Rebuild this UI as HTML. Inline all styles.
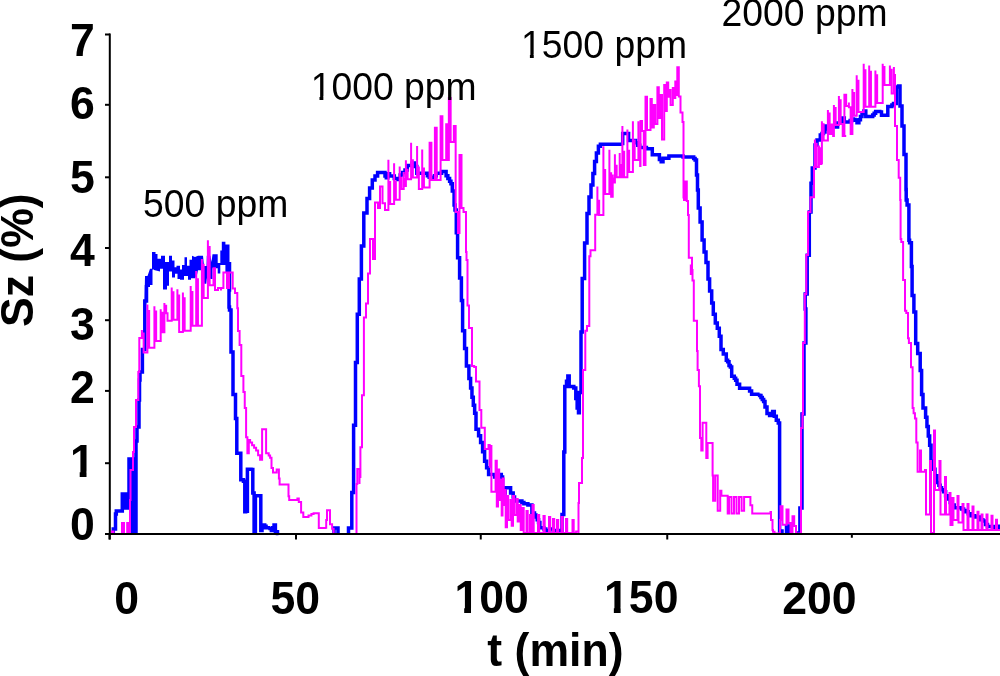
<!DOCTYPE html>
<html><head><meta charset="utf-8"><title>Sz vs t</title>
<style>html,body{margin:0;padding:0;background:#fff;width:1000px;height:676px;overflow:hidden}svg{display:block}</style>
</head><body>
<svg width="1000" height="676" viewBox="0 0 1000 676">
<rect width="1000" height="676" fill="#fff"/>
<polyline fill="none" stroke="#0000ff" stroke-width="3.5" stroke-linejoin="miter" stroke-miterlimit="2" points="113.3,533.5 113.3,529 114.2,529 115.5,529 115.5,514 116.3,514 116.3,511 117.8,511 122.3,511 122.3,494 122.8,494 125.7,494 125.7,508 126.2,508 129,508 129,459 129.8,459 132.5,459 132.5,532 134,532 136,532 136,441 137,441 137,427 139,427 139,400 139.5,400 139.5,380 140,380 140,372 140.5,372 142.4,372 142.4,349.5 144.8,349.5 144.8,301 146.5,301 146.5,285"/>
<polyline fill="none" stroke="#0000ff" stroke-width="3.5" stroke-linejoin="miter" stroke-miterlimit="2" points="229.5,262 229.5,272.4 229.5,290 229,290 229,307 229.5,307 229.5,310 231,310 231,352 233,352 233,392 233,394.6 235.5,394.6 235.5,418.6 236.8,418.6 236.8,453.2 238.1,453.2 240.8,453.2 240.8,455.8 240.8,479.8 242.1,479.8 243.45,479.8 243.45,481.15 244.8,481.15 244.8,482.5 244.8,511.8 246.1,511.8 247.4,511.8 247.4,513 247.4,469.2 248.8,469.2 252.8,469.2 252.8,467.8 252.8,493 254.1,493 254.1,531.7 255.4,531.7 255.4,495.8 257.3,495.8 260.8,495.8 260.8,498.4 260.8,530.4 262,530.4 262,527.7 263.35,527.7 263.35,525 264.7,525 264.7,526.35 266.05,526.35 266.05,527.7 267.4,527.7 270,527.7 270,526.4 270,528.4 271.35,528.4 271.35,530.4 272.7,530.4 272.7,527.7 274.05,527.7 274.05,525 275.4,525 275.4,531.7 277.5,531.7 277.5,533.5 278.5,533.5"/>
<polyline fill="none" stroke="#0000ff" stroke-width="3.5" stroke-linejoin="miter" stroke-miterlimit="2" points="334,534.5 334,528 335.5,528 338,528 338,534.5"/>
<polyline fill="none" stroke="#0000ff" stroke-width="3.5" stroke-linejoin="miter" stroke-miterlimit="2" points="348.5,534.5 348.5,528 349.5,528 351.8,528 351.8,492.6 353.6,492.6 353.6,425.3 355.5,425.3 355.5,362.6 357.3,362.6 357.3,314.2 359.3,314.2 359.3,279 361.4,279 361.4,246 363.8,246 363.8,213 367,213 367,198.6 369.6,198.6 369.6,188 372.3,188 372.3,180 375,180 375,176 377.6,176 377.6,172.6 385,172.6 385,176 386.3,176 386.3,177.8 387.8,177.8 387.8,173.7 389.6,173.7 389.6,176 391.4,176 394.3,176 394.3,178.4 397.9,178.4 397.9,179.6 400.2,179.6 400.2,179 400.2,174.9 402.6,174.9 402.6,172.5 405,172.5 405,170.1 407.3,170.1 407.3,165.4 409.7,165.4 412.1,165.4 412.1,166.6 412.1,163 414.4,163 414.4,166.6 416.8,166.6 416.8,173.2 418.6,173.2 423,173.2 427.4,173.2 427.4,175.8 429.2,175.8 429.2,177.15 431,177.15 431,178.5 434.5,178.5 434.5,175.85 436.3,175.85 436.3,173.2 438.1,173.2 441.6,173.2 441.6,171.4 446.1,171.4 446.1,173.2 446.1,175.85 447.85,175.85 447.85,178.5 449.6,178.5 449.6,181.15 450.95,181.15 450.95,183.8 452.3,183.8 452.3,190.9 454.1,190.9 454.1,205.1 455,205.1 455,210 456.3,210 456.3,232.7 457.6,232.7 457.6,257.8 459.6,257.8 459.6,278 461.4,278 461.4,300.6 462.6,300.6 462.6,330.8 464.6,330.8 464.6,348.4 466.4,348.4 466.4,366 468.9,366 468.9,378.6 470.6,378.6 470.6,387.95 471.95,387.95 471.95,397.3 473.3,397.3 473.3,405.25 474.65,405.25 474.65,413.2 476,413.2 476,429.2 478.6,429.2 478.6,435.85 480.6,435.85 480.6,442.5 482.6,442.5 482.6,451.85 484.6,451.85 484.6,461.2 486.6,461.2 486.6,467.85 488.6,467.85 488.6,474.5 490.6,474.5 494.6,474.5 494.6,477.1 497.3,477.1 497.3,474.5 501.3,474.5 501.3,477.1 502.6,477.1 502.6,498.4 503.9,498.4 503.9,493.1 505.25,493.1 505.25,487.8 506.6,487.8 510.6,487.8 510.6,493.1 513.2,493.1 513.2,497.1 514.55,497.1 514.55,501.1 515.9,501.1 519.9,501.1 521.9,501.1 521.9,502.45 523.9,502.45 523.9,503.8 527.9,503.8 527.9,505.1 531.9,505.1 531.9,506.4 531.9,513.1 534.5,513.1 534.5,515.1 535.85,515.1 535.85,517.1 537.2,517.1 537.2,519.75 538.55,519.75 538.55,522.4 539.9,522.4 539.9,527.7 542.5,527.7 543.85,527.7 543.85,529.05 545.2,529.05 545.2,530.4 549.2,530.4 549.2,529 553.2,529 553.2,530.4 558.5,530.4 562,530.4 562,529 562,514.4 563.8,514.4 563.8,451.9 564.8,451.9 564.8,386.6 566.5,386.6 566.5,381.3 567.85,381.3 567.85,376 569.2,376 569.2,386.6 571.8,386.6 573.8,386.6 573.8,387.95 575.8,387.95 575.8,389.3 575.8,398.6 577.15,398.6 577.15,407.9 578.5,407.9 578.5,412.8 579.3,412.8 579.3,392.6 581,392.6 581,334.3 581,331.9 582.2,331.9 582.2,278.6 584.6,278.6 584.6,276.3 584.6,243 587,243 587,240.8 587,213.6 589,213.6 589,197 591,197 591,185 592.9,185 592.9,173.6 594.6,173.6 594.6,161.6 596.4,161.6 596.4,153 598.4,153 598.4,146.3 600.4,146.3 600.4,144.3 619.2,144.3 622.7,144.3 622.7,145.2 622.7,133.4 625.1,133.4 628.6,133.4 628.6,135.7 628.6,140.5 631,140.5 635.7,140.5 635.7,142.87 637.7,142.87 637.7,145.23 639.7,145.23 639.7,147.6 641.7,147.6 646.4,147.6 646.4,148.8 652.3,148.8 652.3,150 652.3,154.7 654.7,154.7 659.4,154.7 659.4,157 659.4,159.4 661.2,159.4 661.2,161.8 663,161.8 663,158.2 665.3,158.2 668.9,158.2 668.9,155.9 683.1,155.9 683.1,157 693.7,157 693.7,158.5 695.1,158.5 695.1,160 696.5,160 696.5,175 697.5,175 697.5,190 698.3,190 698.3,208 700.1,208 700.1,222 702.1,222 702.1,240 704.1,240 704.1,252 706,252 706,262.6 708,262.6 708,279 709.6,279 709.6,291 711.7,291 711.7,303 713.3,303 713.3,314.3 715.3,314.3 715.3,323 717.3,323 717.3,328.3 719.3,328.3 719.3,336.3 721,336.3 721,349.6 723.3,349.6 723.3,354 726.3,354 726.3,356 726.3,360.3 727.65,360.3 727.65,361.65 729,361.65 729,363 729,365.6 730.35,365.6 730.35,366.95 731.7,366.95 731.7,368.3 731.7,373.6 731.7,376.3 734.3,376.3 734.3,378.3 735.65,378.3 735.65,380.3 737,380.3 737,384.3 739.6,384.3 739.6,388.3 741,388.3 749.6,388.3 749.6,391 751.6,391 751.6,394.3 753.6,394.3 757,394.3 759.6,394.3 759.6,393.6 759.6,395.6 760.95,395.6 760.95,397.6 762.3,397.6 762.3,399.6 763.65,399.6 763.65,401.6 765,401.6 765,407 767,407 767,413.6 769.6,413.6 769.6,415.6 771,415.6 771,413.6 772.65,413.6 772.65,411.6 774.3,411.6 774.3,416.3 776.3,416.3 776.3,420.3 778.3,420.3 778.3,423 779.6,423 779.6,531 782,531 782,532.5 782,534.5"/>
<polyline fill="none" stroke="#0000ff" stroke-width="3.5" stroke-linejoin="miter" stroke-miterlimit="2" points="786.5,534.5 786.5,526 787,526 788.5,526 788.5,534.5"/>
<polyline fill="none" stroke="#0000ff" stroke-width="3.5" stroke-linejoin="miter" stroke-miterlimit="2" points="798.5,534.5 798.5,533 799.9,533 799.9,508 802,508 802,414 804,414 804,343 805.9,343 805.9,309 805.2,309 805.2,294 807.2,294 807.2,255.2 809.3,255.2 809.3,212 811,212 811,197 811,183.3 811.3,183.3 812.3,183.3 812.3,168 815,168 815,147 815,145 817,145 817,140 820.3,140 820.3,139.5 820.3,135 822,135 822,133.5 823.5,133.5 823.5,132 825,132 825,126 827,126 827,129 829,129 829,127 831,127 837.6,127 837.6,123 839,123 841,123 841,121.6 841,118 842.3,118 844.3,118 844.3,122 845.6,122 848.3,122 850.15,122 850.15,120.5 852,120.5 852,119 855.1,119 855.1,117.8 855.1,120.3 857,120.3 857,122.8 858.9,122.8 858.9,119.7 860.45,119.7 860.45,116.6 862,116.6 862,113.75 863.9,113.75 863.9,110.9 865.8,110.9 865.8,116.6 868.3,116.6 872.7,116.6 872.7,114.9 874.17,114.9 874.17,113.2 875.63,113.2 875.63,111.5 877.1,111.5 881.5,111.5 881.5,110.3 881.5,115.3 884,115.3 887.8,115.3 887.8,114 887.8,106.5 890.3,106.5 891.9,106.5 891.9,104.95 893.5,104.95 893.5,103.4 896.3,103.4 896.3,103 896.3,87 898.5,87 898.5,86 900,86 900,86.5 900,106 902,106 902,126 904,126 904,154.6 906,154.6 906,189.6 906.2,189.6 906.2,200 907.1,200 907.1,205 908.9,205 908.9,240.2 909.6,240.2 909.6,242.8 911.4,242.8 911.4,266.6 912.1,266.6 912.1,295.6 913.9,295.6 913.9,311.9 915.7,311.9 915.7,343.4 917.7,343.4 917.7,353.4 920.2,353.4 920.2,370.6 921.6,370.6 921.6,394.6 923,394.6 923,407.9 925.6,407.9 925.6,417.25 926.95,417.25 926.95,426.6 928.3,426.6 928.3,435.9 929.65,435.9 929.65,445.2 931,445.2 931,461.2 933.6,461.2 933.6,469.2 935,469.2 935,475.85 936.95,475.85 936.95,482.5 938.9,482.5 938.9,485.15 940.25,485.15 940.25,487.8 941.6,487.8 941.6,489.8 943.6,489.8 943.6,491.8 945.6,491.8 945.6,495.8 948.2,495.8 948.2,499.1 950.2,499.1 950.2,502.4 952.2,502.4 952.2,505.1 954.2,505.1 954.2,507.8 956.2,507.8 961.6,507.8 961.6,509.1 963.6,509.1 963.6,510.45 965.6,510.45 965.6,511.8 968.25,511.8 968.25,513.8 970.9,513.8 970.9,515.8 974.9,515.8 974.9,517.1 980.2,517.1 980.2,519.7 982.85,519.7 982.85,521.05 985.5,521.05 985.5,522.4 985.5,524.4 987.5,524.4 987.5,526.4 989.5,526.4 993.5,526.4 993.5,529 997.5,529 997.5,527.7 999.75,527.7 999.75,526.35 1002,526.35 1002,525"/>
<polygon fill="#0000ff" stroke="none" points="144.5,300 145,276 147.5,276 150,268.7 152,268.7 152,252 155.5,252 155.5,253.9 157.5,253.9 157.5,258.7 161,258.7 161,255.7 165,255.7 165,262 169,262 169,255.7 172,255.7 172,260.5 174.5,260.5 174.5,267.2 176.5,267.2 176.5,265.7 180,265.7 180,269.4 182,269.4 182,265 184.5,265 184.5,257.2 187,257.2 187,265.7 189.5,265.7 189.5,259.8 192,259.8 192,255.7 195,257 198,255.8 203,255.8 204,266 206.5,266 206.8,255.8 210.4,255.8 211.5,262 212.5,254.3 217.7,254.3 217.7,263 220.3,263 220.3,250.6 221.8,250.6 221.8,241.8 225.4,241.8 225.4,244.4 229.5,244.4 229.5,272.4 225.4,272.4 225.4,265 220.3,265 220.3,273.4 217.7,273.4 217.7,268.2 212.5,268.2 212.5,279 210.4,279 210.4,278.6 206.8,278.6 206.3,283.8 204.2,283.8 203,270.3 198,270.3 197,275 195,278.3 191,278.3 191,279.8 188,279.8 188,276 184,276 184,279.8 180,279.8 180,279 177.5,279 177.5,273.8 175,273.8 175,277.5 172,277.5 172,271.6 169,271.6 169,285.7 167,285.7 167,289.4 163,289.4 163,268.7 160,268.7 160,271.6 154,270 154,269.4 152.5,269.4 152.5,285 150,285 150,287 148,287 147,300"/>
<polyline fill="none" stroke="#ff00ff" stroke-width="2.0" stroke-linejoin="miter" stroke-miterlimit="2" points="112,534 112,531.5 113.5,531.5 113.5,534 115,534 122,534 122,523 122.5,523 124,523 124,534 124.5,534 127.2,534 127.2,523 127.5,523 128.8,523 128.8,534 129.2,534 130,534 130,500 130.5,500 130.5,470 133,470 133,452 134,452 134,427 136,427 136,400 138.3,400 138.3,372 139.3,372 139.3,338 140.3,338 141.9,338 141.9,330 141.9,333.38 143.65,333.38 143.65,352.5 145.4,352.5 147.4,352.5 147.4,304.4 147.4,310.89 149.15,310.89 149.15,347.7 150.9,347.7 154.4,347.7 154.4,306.3 154.4,311.5 156.15,311.5 156.15,341 157.9,341 160.7,341 160.7,309.2 160.7,312.66 162.45,312.66 162.45,332.3 164.2,332.3 164.4,332.3 164.4,303 164.4,305.67 166.15,305.67 166.15,313.24 167.53,313.24 167.53,320.8 168.9,320.8 171.7,320.8 171.7,287.5 171.7,292.33 173.45,292.33 173.45,319.7 175.2,319.7 177.4,319.7 177.4,289.2 177.4,295.62 179.15,295.62 179.15,332 180.9,332 182.9,332 182.9,292.5 182.9,298.25 184.65,298.25 184.65,330.8 186.4,330.8 190.7,330.8 190.7,285.9 190.7,291.88 192.45,291.88 192.45,325.8 194.2,325.8 196.2,325.8 196.2,270.9 196.2,279.13 197.95,279.13 197.95,325.8 199.7,325.8 201.9,325.8 201.9,259 201.9,264.85 203.65,264.85 203.65,298 205.4,298 207.9,298 207.9,240.3 207.9,247.05 209.65,247.05 209.65,285.3 211.4,285.3 213.5,285.3 213.5,268.2 215,268.2 215,290 215.5,290 218,290 218,288 221,288 221,290.5 221,288 223.4,288 223.4,272.4 227,272.4 227,288 227.5,288 229,288 229,272.4 229.5,272.4 232.7,272.4 232.7,288.4 233,288.4 235,288.4 235,293 237.3,293 237.3,308.2 238,308.2 238,331 239.6,331 239.6,345 241.3,345 241.3,376 243.4,376 243.4,392 244.75,392 244.75,408 246.1,408 246.1,437.2 247.4,437.2 247.4,453.2 248.8,453.2 248.8,439.9 250.1,439.9 250.1,442.55 252.1,442.55 252.1,445.2 254.1,445.2 254.1,447.85 256.1,447.85 256.1,450.5 258.1,450.5 258.1,455.15 260.1,455.15 260.1,459.8 262.1,459.8 262.1,429.2 263.4,429.2 266.1,429.2 266.1,430.6 266.1,453.2 268.7,453.2 268.7,455.5 270.1,455.5 270.1,457.8 271.5,457.8 271.5,468.1 273,468.1 273,472.5 273.7,472.5 276.7,472.5 276.7,471.8 276.7,469.6 278.9,469.6 278.9,478.5 279.6,478.5 279.6,484.4 281.1,484.4 288.5,484.4 288.5,496.2 289.2,496.2 289.2,499.9 290.7,499.9 297.4,499.9 297.4,498.4 298.8,498.4 298.8,502.1 301.1,502.1 301.1,512.5 303.3,512.5 303.3,516.9 305.5,516.9 308.5,516.9 308.5,515.4 311.4,515.4 311.4,514 313.6,514 313.6,513.2 318.8,513.2 318.8,528 319.6,528 326.2,528 326.2,528.8 326.2,519.9 327,519.9 327,510.3 328.4,510.3 330,510.3 330,524.3 332.1,524.3 332.1,525.8 332.1,528.8 333.6,528.8 333.6,534 334.3,534 356,534"/>
<polyline fill="none" stroke="#ff00ff" stroke-width="2.0" stroke-linejoin="miter" stroke-miterlimit="2" points="334.3,534 356.5,534 356.5,484 357.3,484 357.3,469 359.5,469 359.5,484 359.5,477 360.4,477 360.4,447.3 362,447.3 362,395.2 363.9,395.2 363.9,317.6 366,317.6 366,303.6 368,303.6 368,273.6 370,273.6 370,239 373,239 373,259 375,259 375,208.6 375,202.4 376.5,202.4 378,202.4 378,208 378.5,208 380,208 380,186.4 382.5,186.4 382.5,203.2 383,203.2 385,203.2 385,210 385.5,210 388.4,210 388.4,159.8 388.4,181.9 390.15,181.9 390.15,204 394.1,204 394.1,163.3 394.1,181.5 395.85,181.5 395.85,199.7 399.7,199.7 399.7,166.4 399.7,177.7 401.45,177.7 401.45,189 403.7,189 403.7,172 403.7,179 405.45,179 405.45,186 405.9,186 405.9,160.2 405.9,169.75 407.65,169.75 407.65,179.3 411.1,179.3 411.1,142.8 411.1,160.15 412.85,160.15 412.85,177.5 417.1,177.5 417.1,146 417.1,167.5 418.85,167.5 418.85,189 422.2,189 422.2,149.5 422.2,168.45 423.95,168.45 423.95,187.4 424.1,187.4 429.6,187.4 429.6,142.8 431.4,142.8 431.4,180 434.9,180 434.9,127.7 436.7,127.7 436.7,180 440.6,180 440.6,116.2 442.4,116.2 442.4,160 446.2,160 446.2,124.2 447.5,124.2 447.5,160 448.85,160 448.85,98 450.65,98 450.65,142 453.85,142 453.85,126 455.65,126 455.65,212 458,212 458,233 458.5,233 459.5,233 459.5,155 461.5,155 461.5,208 462,208 463.5,208 463.5,212 464,212 466,212 466,252 466.5,252 466.5,260 467.5,260 467.5,305.6 467.7,305.6 469,305.6 469,328 469.5,328 472,328 472,366 472.7,366 474.2,366 474.2,367 476,367 476,381.6 479.5,381.6 479.5,410 481.3,410 481.3,427.7 483,427.7 484.8,427.7 484.8,449 488.5,449 488.5,445 489.7,445 489.7,466.7 490.2,466.7 490.2,446 491.4,446 491.4,491.8 495.6,491.8 495.6,460.7 496.8,460.7 496.8,506.6 498,506.6 498,469.6 499.2,469.6 499.2,500 500.5,500 500.5,480 501.7,480 501.7,515.4 502.5,515.4 502.5,478.5 503.7,478.5 503.7,505 504.5,505 504.5,490 505.7,490 505.7,527.3 507,527.3 507,496 508.2,496 508.2,520 510.5,520 510.5,500 511.7,500 511.7,525.8 513,525.8 513,496 514.2,496 514.2,515 516.5,515 516.5,499 517.7,499 517.7,521.4 519.5,521.4 519.5,505 520.7,505 520.7,530 522.5,530 522.5,508 523.7,508 523.7,533 526.5,533 526.5,511 527.7,511 527.7,533 530,533 530,515 531.2,515 531.2,533 532.5,533 532.5,505 533.7,505 533.7,533 538,533 538,515 539.2,515 539.2,533 543.5,533 543.5,516 544.7,516 544.7,533 549,533 549,517 550.2,517 550.2,533 553,533 553,519 554.2,519 554.2,533 557,533 557,520 558.2,520 558.2,533 561.5,533 561.5,517 562.7,517 562.7,533 566,533 566,519 567.2,519 567.2,533 572.5,533 572.5,520 573.7,520 573.7,533 576.1,533 576.1,531.5 578.5,531.5 578.5,530 578.5,533 578.5,503 579,503 579,483 580.5,483 582,483 582,458 583,458 583,370 584.5,370 585.3,370 585.3,330.7 587,330.7 587,326 589.3,326 589.3,256.2 590.5,256.2 590.5,250.2 591.7,250.2 595.2,250.2 595.2,247.9 595.2,214.7 597.4,214.7 597.4,186.6 597.4,200.8 599.15,200.8 599.15,215 603.4,215 603.4,146.2 603.4,170.1 605.15,170.1 605.15,194 609.4,194 609.4,149.8 609.4,173.3 611.15,173.3 611.15,196.8 612.7,196.8 612.7,174.6 612.7,178.6 614.45,178.6 614.45,182.6 614.9,182.6 614.9,154.2 614.9,165.75 616.65,165.75 616.65,177.3 619.7,177.3 619.7,152.9 619.7,165.1 621.45,165.1 621.45,177.3 622.4,177.3 622.4,126 622.4,151.65 624.15,151.65 624.15,177.3 627.4,177.3 627.4,129.6 627.4,150.8 629.15,150.8 629.15,172 632.9,172 632.9,121.2 632.9,140.6 634.65,140.6 634.65,160 638.4,160 638.4,121.2 638.4,143.6 640.15,143.6 640.15,166 640.5,166 640.5,121 642,121 642,131 642.5,131 643.8,131 643.8,165 644,165 645.5,165 645.5,96.8 647,96.8 647,130 647.5,130 650.5,130 650.5,99 651.8,99 651.8,127.6 652.2,127.6 653.8,127.6 653.8,105 654,105 655.2,105 655.2,124 655.6,124 657.4,124 657.4,87.3 658.8,87.3 658.8,118 659.2,118 660.8,118 660.8,95 661,95 662,95 662,139.4 662.4,139.4 664.2,139.4 664.2,85 664.5,85 665.8,85 665.8,111 666,111 666.8,111 666.8,82.6 667,82.6 668.2,82.6 668.2,96.8 668.6,96.8 669.5,96.8 669.5,90 669.8,90 670.6,90 670.6,105 671,105 672.8,105 672.8,88 673,88 674,88 674,98 674.3,98 675.3,98 675.3,81.4 675.5,81.4 676.5,81.4 676.5,95 676.8,95 677.3,95 677.3,67.2 677.5,67.2 678.8,67.2 678.8,96.6 679,96.6 680.5,96.6 680.5,97.5 680.5,112.6 682.5,112.6 682.5,122 683.5,122 683.5,197.6 684,197.6 684,200 684.8,200 684.8,181.6 686.8,181.6 686.8,201 688,201 688,215 688.8,215 688.8,215.1 688.8,257.8 690,257.8 692,257.8 692,274 690.8,274 690.8,265.4 691.3,265.4 691.3,270 692.5,270 692.5,280.5 693.8,280.5 693.8,320.7 695.1,320.7 697,320.7 697,351 697.6,351 697.6,370 698.9,370 698.9,386.3 700,386.3 700,437.9 701.3,437.9 701.3,450.5 702.6,450.5 702.6,422.8 703.8,422.8 706.3,422.8 706.3,458 707.6,458 707.6,443 710.1,443 712.6,443 712.6,475.6 713.1,475.6 713.1,500.8 715.2,500.8 715.2,475.6 717.7,475.6 717.7,510.8 720.2,510.8 720.2,490.7 721.4,490.7 721.4,495.8 724,495.8 727.7,495.8 727.7,513.4 729,513.4 729,497 731.5,497 731.5,513.4 734,513.4 734,497 736.5,497 736.5,513.4 739,513.4 739,497 741.6,497 741.6,510.8 744.1,510.8 744.1,497 746.6,497 750.4,497 750.4,505.2 752.25,505.2 752.25,513.4 754.1,513.4 770.5,513.4 770.5,512 771,512 771,520 771.5,520 772.5,520 772.5,530 773,530 773,531.75 774.5,531.75 774.5,533.5 776,533.5 780,533.5 780,520 780.5,520 780.5,506.3 781,506.3 782.5,506.3 782.5,524.8 783,524.8 786.5,524.8 786.5,509.6 787.2,509.6 788.5,509.6 788.5,523 789,523 790.5,523 790.5,533 791,533 792.5,533 792.5,516.3 792.7,516.3 794.2,516.3 794.2,526 794.5,526 796,526 796,533.5 796.5,533.5 801,533.5 801,428 802.5,428 802.5,414 803,414 803,343 804.8,343 804.8,294 806.3,294 806.3,255 808,255 808,212 810.5,212 810.5,197.3 814,197.3 814,167 814.9,167 814.9,139.6 814.9,143.71 816.65,143.71 816.65,167 818.4,167 818.9,167 818.9,145.6 818.9,148.36 820.65,148.36 820.65,164 822.4,164 821.9,164 821.9,121.3 821.9,124.16 823.65,124.16 823.65,140.4 825.9,140.4 827.9,140.4 827.9,110 827.9,113.6 829.65,113.6 829.65,134 831.4,134 831.4,124.4 833.15,124.4 833.15,126.14 833.15,136 834.9,136 833.9,136 833.9,104.9 833.9,107.92 835.65,107.92 835.65,125 837.4,125 838.9,125 838.9,96 838.9,100.2 840.65,100.2 840.65,124 842.4,124 842.7,124 842.7,136 844.45,136 846.2,136 844.4,136 844.4,94.7 846.15,94.7 846.15,96.39 846.15,106 847.9,106 848.9,106 848.9,102.6 848.9,107.31 850.65,107.31 850.65,134 852.4,134 852.4,89 852.4,93 854.15,93 854.15,115.7 855.9,115.7 856.7,115.7 856.7,75.3 856.7,80.8 858.45,80.8 858.45,112 860.2,112 863.7,112 863.7,63.8 863.7,70.25 865.45,70.25 865.45,106.8 867.2,106.8 869.2,106.8 869.2,65.5 869.2,71.69 870.95,71.69 870.95,106.8 872.7,106.8 875.4,106.8 875.4,70.4 875.4,75.29 877.15,75.29 877.15,103 878.9,103 882.7,103 882.7,63.8 882.7,66.98 884.45,66.98 884.45,85 886.2,85 889.9,85 889.9,65.5 889.9,69.7 891.65,69.7 891.65,93.5 893.4,93.5 893.9,93.5 893.9,66.9 893.9,75 895,75 895,126 897,126 897,160 898.7,160 898.7,170 898.7,177.8 900.2,177.8 900.2,200 900.6,200 900.6,239 901.3,239 901.3,242 903.1,242 903.1,266.6 903.1,280 905,280 905,310.7 906.3,310.7 906.3,313 908,313 908,338.3 908.9,338.3 908.9,343 911,343 911,367.3 912.6,367.3 912.6,407.9 913.6,407.9 913.6,413.25 914.95,413.25 914.95,418.6 916.3,418.6 916.3,442.5 917.6,442.5 917.6,471.8 919,471.8 920,471.8 920,450.5 921,450.5 921,471.8 925,471.8 925,470 926,470 926,514.4 930,514.4 930,461 931,461 931,533 934,533 934,430.6 935,430.6 935,490 939.5,490 939.5,461 940.5,461 940.5,514.4 945,514.4 945,477 946,477 946,514.4 949.5,514.4 949.5,493 950.5,493 950.5,525 952.5,525 952.5,498 953.5,498 953.5,520 957.5,520 957.5,496 958.5,496 958.5,522.4 962.5,522.4 962.5,504 963.5,504 963.5,530 967.5,530 967.5,504 968.5,504 968.5,530 972.5,530 972.5,506.4 973.5,506.4 973.5,530 977.5,530 977.5,511.8 978.5,511.8 978.5,530 981.5,530 981.5,514.4 982.5,514.4 982.5,530 986.5,530 986.5,514.4 987.5,514.4 987.5,530 991.5,530 991.5,515.8 992.5,515.8 992.5,530 996,530 996,519.7 997,519.7 997,530 1002,530"/>
<g stroke="#000" stroke-width="2" fill="none">
<line x1="109.8" y1="33.5" x2="109.8" y2="539.5"/>
<line x1="105" y1="534" x2="1000" y2="534"/>
<line x1="105" y1="34.5" x2="110" y2="34.5"/>
<line x1="105" y1="104.8" x2="110" y2="104.8"/>
<line x1="105" y1="177.3" x2="110" y2="177.3"/>
<line x1="105" y1="248" x2="110" y2="248"/>
<line x1="105" y1="320.2" x2="110" y2="320.2"/>
<line x1="105" y1="390.9" x2="110" y2="390.9"/>
<line x1="105" y1="463.2" x2="110" y2="463.2"/>
<line x1="105" y1="534" x2="110" y2="534"/>
<line x1="109.5" y1="534" x2="109.5" y2="539.5"/>
<line x1="296" y1="534" x2="296" y2="539.5"/>
<line x1="480.75" y1="534" x2="480.75" y2="539.5"/>
<line x1="667.25" y1="534" x2="667.25" y2="539.5"/>
<line x1="851.85" y1="534" x2="851.85" y2="537.75"/>
</g>
<g font-family="Liberation Sans, Arial, sans-serif" font-weight="bold" font-size="44.6" fill="#000">
<text transform="translate(94.7,55.5) scale(1,1.045)" text-anchor="end">7</text>
<text transform="translate(94.7,118.7) scale(1,1.045)" text-anchor="end">6</text>
<text transform="translate(94.7,193.0) scale(1,1.045)" text-anchor="end">5</text>
<text transform="translate(94.7,266.4) scale(1,1.045)" text-anchor="end">4</text>
<text transform="translate(94.7,339.8) scale(1,1.045)" text-anchor="end">3</text>
<text transform="translate(94.7,403.3) scale(1,1.045)" text-anchor="end">2</text>
<text transform="translate(94.7,477.3) scale(1,1.045)" text-anchor="end">1</text>
<text transform="translate(94.7,540.4) scale(1,1.045)" text-anchor="end">0</text>
<text transform="translate(126.6,613.5) scale(1,1.045)" text-anchor="middle">0</text>
<text transform="translate(295.3,613.5) scale(1,1.045)" text-anchor="middle">50</text>
<text transform="translate(491.6,613.3) scale(1,1.045)" text-anchor="middle">100</text>
<text transform="translate(641.25,613.3) scale(1,1.045)" text-anchor="middle">150</text>
<text transform="translate(819.4,613.5) scale(1,1.045)" text-anchor="middle">200</text>
<text transform="translate(555.4,666) scale(1,1.045)" text-anchor="middle">t (min)</text>
<text transform="translate(33,260.2) rotate(-90) scale(1,1.045)" text-anchor="middle">Sz (%)</text>
</g>
<g font-family="Liberation Sans, Arial, sans-serif" font-size="37.3" fill="#000">
<text transform="translate(143.1,216.9) scale(1,1.03)">500 ppm</text>
<text transform="translate(310.7,100.2) scale(1,1.03)">1000 ppm</text>
<text transform="translate(521.1,57.95) scale(1,1.03)">1500 ppm</text>
<text transform="translate(721.6,26.3) scale(1,1.03)">2000 ppm</text>
</g>
<g>
<rect x="71.40" y="471.70" width="8.3" height="6.6" fill="#fff"/><rect x="86.50" y="471.70" width="8.6" height="6.6" fill="#fff"/>
<rect x="455.89" y="607.70" width="8.3" height="6.6" fill="#fff"/><rect x="470.99" y="607.70" width="8.6" height="6.6" fill="#fff"/>
<rect x="605.54" y="607.70" width="8.3" height="6.6" fill="#fff"/><rect x="620.64" y="607.70" width="8.6" height="6.6" fill="#fff"/>
<rect x="312.20" y="96.50" width="7.3" height="4.6" fill="#fff"/><rect x="323.35" y="96.50" width="7.6" height="4.6" fill="#fff"/>
<rect x="522.60" y="54.25" width="7.3" height="4.6" fill="#fff"/><rect x="533.75" y="54.25" width="7.6" height="4.6" fill="#fff"/>
</g>
</svg>
</body></html>
